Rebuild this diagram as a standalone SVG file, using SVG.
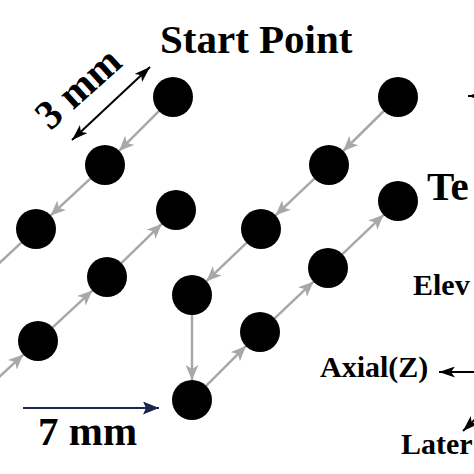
<svg xmlns="http://www.w3.org/2000/svg" width="474" height="474" viewBox="0 0 474 474">
  <style>
    .dot { fill: #000; }
    .lbl { font-family: "Liberation Serif", "Times New Roman", serif; font-weight: bold; fill: #000; }
    .big { font-size: 41px; }
    .mid { font-size: 30px; }
    .path { stroke: #a8a8a8; stroke-width: 2.5; fill: none; }
    .blk { stroke: #000; stroke-width: 2; fill: none; }
    .navy { stroke: #1c2650; stroke-width: 2.2; fill: none; }
  </style>
  <defs>
    <marker id="ga" viewBox="0 0 15 13" refX="15" refY="6.5" markerWidth="15" markerHeight="13" markerUnits="userSpaceOnUse" orient="auto">
      <path d="M0,0 L15,6.5 L0,13 L4,6.5 Z" fill="#a8a8a8"/>
    </marker>
    <marker id="ba" viewBox="0 0 16 11" refX="16" refY="5.5" markerWidth="16" markerHeight="11" markerUnits="userSpaceOnUse" orient="auto-start-reverse">
      <path d="M0,0 L16,5.5 L0,11 L4,5.5 Z" fill="#000"/>
    </marker>
    <marker id="na" viewBox="0 0 16 13" refX="16" refY="6.5" markerWidth="16" markerHeight="13" markerUnits="userSpaceOnUse" orient="auto">
      <path d="M0,0 L16,6.5 L0,13 L3,6.5 Z" fill="#1c2650"/>
    </marker>
  </defs>

  <g id="connectors">
    <line class="path" x1="158.9" y1="111.1" x2="119.1" y2="150.9" marker-end="url(#ga)"/>
    <line class="path" x1="90.3" y1="178.6" x2="50.7" y2="215.4" marker-end="url(#ga)"/>
    <line class="path" x1="21.3" y1="242.6" x2="-10" y2="271.9"/>
    <line class="path" x1="-10" y1="385.5" x2="23.3" y2="354.6" marker-end="url(#ga)"/>
    <line class="path" x1="52.7" y1="327.4" x2="92.3" y2="290.6" marker-end="url(#ga)"/>
    <line class="path" x1="121.3" y1="263.1" x2="161.7" y2="223.9" marker-end="url(#ga)"/>
    <line class="path" x1="383.8" y1="111" x2="343.2" y2="151" marker-end="url(#ga)"/>
    <line class="path" x1="314.4" y1="178.7" x2="275.6" y2="215.3" marker-end="url(#ga)"/>
    <line class="path" x1="246.5" y1="242.8" x2="206.5" y2="281.2" marker-end="url(#ga)"/>
    <line class="path" x1="192" y1="315" x2="192" y2="380" marker-end="url(#ga)"/>
    <line class="path" x1="206.1" y1="385.9" x2="245.9" y2="346.1" marker-end="url(#ga)"/>
    <line class="path" x1="274.6" y1="318.3" x2="313.4" y2="281.7" marker-end="url(#ga)"/>
    <line class="path" x1="342.4" y1="254.2" x2="383.6" y2="214.8" marker-end="url(#ga)"/>

    <line class="blk" x1="72" y1="140" x2="150" y2="67" marker-start="url(#ba)" marker-end="url(#ba)"/>
    <line class="navy" x1="23" y1="408" x2="159" y2="408" marker-end="url(#na)"/>
    <line class="blk" x1="490" y1="96" x2="468" y2="96" marker-end="url(#ba)"/>
    <line class="blk" x1="490" y1="372" x2="439" y2="372" marker-end="url(#ba)"/>
    <line class="blk" x1="487" y1="408" x2="463" y2="431" marker-end="url(#ba)"/>
  </g>

  <g id="A1"><circle class="dot" cx="173" cy="97" r="20"/></g>
  <g id="A2"><circle class="dot" cx="105" cy="165" r="20"/></g>
  <g id="A3"><circle class="dot" cx="36" cy="229" r="20"/></g>
  <g id="B1"><circle class="dot" cx="38" cy="341" r="20"/></g>
  <g id="B2"><circle class="dot" cx="107" cy="277" r="20"/></g>
  <g id="B3"><circle class="dot" cx="176" cy="210" r="20"/></g>
  <g id="C1"><circle class="dot" cx="398" cy="97" r="20"/></g>
  <g id="C2"><circle class="dot" cx="329" cy="165" r="20"/></g>
  <g id="C3"><circle class="dot" cx="261" cy="229" r="20"/></g>
  <g id="C4"><circle class="dot" cx="192" cy="295" r="20"/></g>
  <g id="C5"><circle class="dot" cx="192" cy="400" r="20"/></g>
  <g id="D1"><circle class="dot" cx="260" cy="332" r="20"/></g>
  <g id="D2"><circle class="dot" cx="328" cy="268" r="20"/></g>
  <g id="D3"><circle class="dot" cx="398" cy="201" r="20"/></g>

  <g id="labels">
    <text class="lbl big" x="160" y="53">Start Point</text>
    <text class="lbl big" x="0" y="0" text-anchor="middle" transform="translate(87,98) rotate(-42)">3 mm</text>
    <text class="lbl big" x="38" y="445">7 mm</text>
    <text class="lbl big" x="427" y="200">Te</text>
    <text class="lbl mid" x="413" y="295">Elev</text>
    <text class="lbl mid" x="320" y="377">Axial(Z)</text>
    <text class="lbl mid" x="401" y="454">Later</text>
  </g>
</svg>
